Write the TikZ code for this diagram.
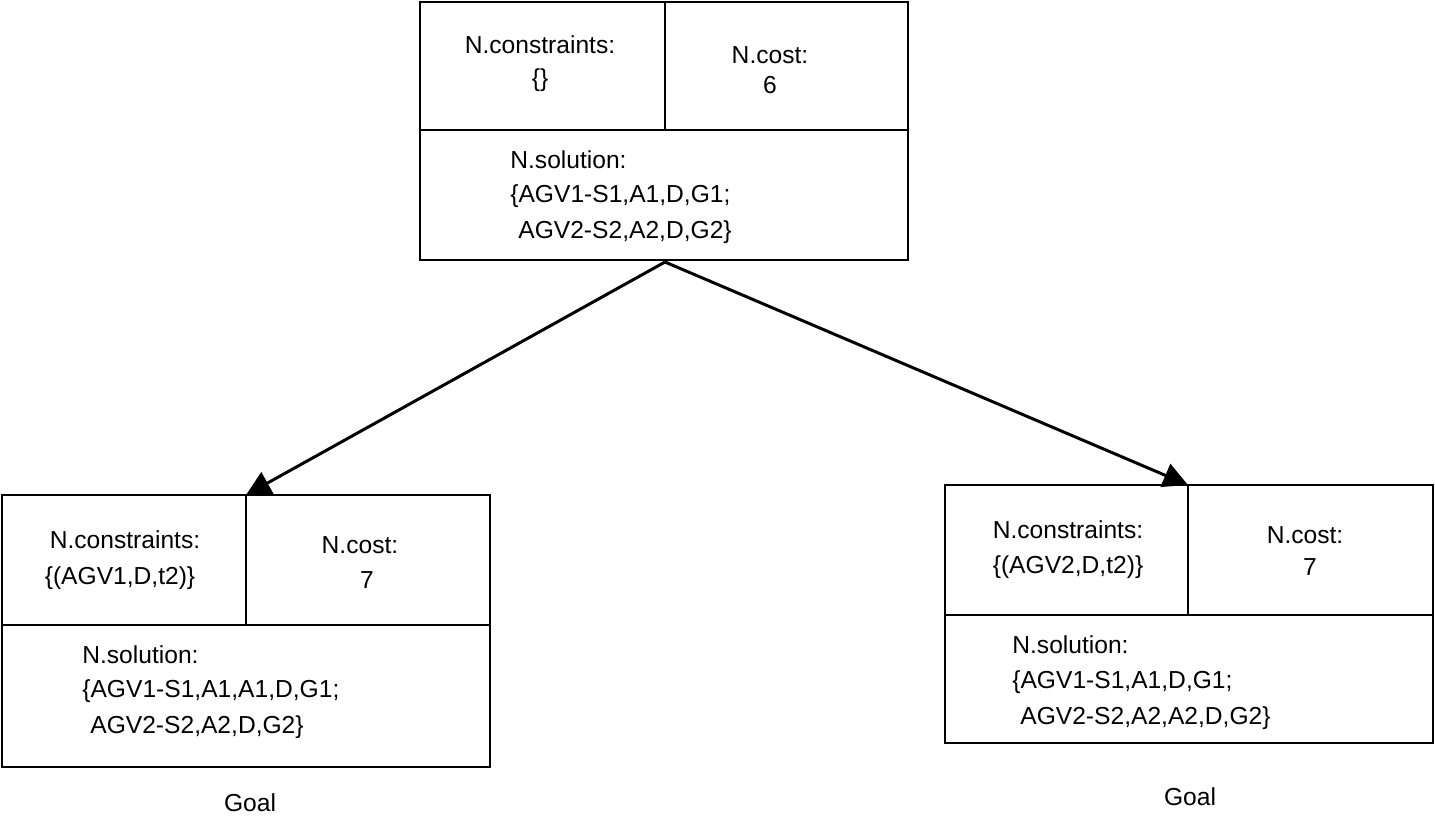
\documentclass[tikz,border=0pt]{standalone}
\usepackage{fontspec}
\setmainfont{Liberation Sans}
\usetikzlibrary{arrows.meta}
\tikzset{
  box/.style={draw, line width=1.6pt, inner sep=0pt},
  txt/.style={inner sep=0pt, font=\fontsize{14}{16}\selectfont},
  sol/.style={txt, anchor=west},
  link/.style={line width=1.7pt, -{Triangle[length=14pt,width=14pt]}}
}
\begin{document}
\begin{tikzpicture}[x=0.02cm, y=-0.02cm]
\useasboundingbox (0,0) rectangle (1435,822);
% root node
\draw[box] (420,2) rectangle (908,260);
\draw[box] (420,130) -- (908,130);
\draw[box] (665,2) coordinate (rootdiv) -- (665,130);
\coordinate (roottail) at (665,262);
\node[txt] (rootcons) at (540,45) {N.constraints:};
\node[txt] (rootset) at (540,80) {\{\}};
\node[txt] (rootcost) at (770,55) {N.cost:};
\node[txt] (rootval) at (770,85) {6};
\node[sol] (rootsol) at (510,160) {N.solution:};
\node[sol] (rootpa) at (510,196) {\{AGV1-S1,A1,D,G1;};
\node[sol] (rootpb) at (518,232) {AGV2-S2,A2,D,G2\}};
% left child
\draw[box] (2,495) rectangle (490,767);
\draw[box] (2,625) -- (490,625);
\draw[box] (246,495) coordinate (lefthead) -- (246,625);
\node[txt] (leftcons) at (125,540) {N.constraints:};
\node[txt] (leftset) at (120,578) {\{(AGV1,D,t2)\}};
\node[txt] (leftcost) at (360,545) {N.cost:};
\node[txt] (leftval) at (367,580) {7};
\node[sol] (leftsol) at (82,655) {N.solution:};
\node[sol] (leftpa) at (82,691) {\{AGV1-S1,A1,A1,D,G1;};
\node[sol] (leftpb) at (90,727) {AGV2-S2,A2,D,G2\}};
\node[txt] (leftgoal) at (250,803) {Goal};
% right child
\draw[box] (945,485) rectangle (1433,743);
\draw[box] (945,615) -- (1433,615);
\draw[box] (1188,485) coordinate (righthead) -- (1188,615);
\node[txt] (rightcons) at (1068,530) {N.constraints:};
\node[txt] (rightset) at (1068,567) {\{(AGV2,D,t2)\}};
\node[txt] (rightcost) at (1305,535) {N.cost:};
\node[txt] (rightval) at (1310,567) {7};
\node[sol] (rightsol) at (1012,645) {N.solution:};
\node[sol] (rightpa) at (1012,682) {\{AGV1-S1,A1,D,G1;};
\node[sol] (rightpb) at (1020,718) {AGV2-S2,A2,A2,D,G2\}};
\node[txt] (rightgoal) at (1190,797) {Goal};
% branches
\draw[link] (roottail) -- (lefthead);
\draw[link] (roottail) -- (righthead);
\end{tikzpicture}
\end{document}
